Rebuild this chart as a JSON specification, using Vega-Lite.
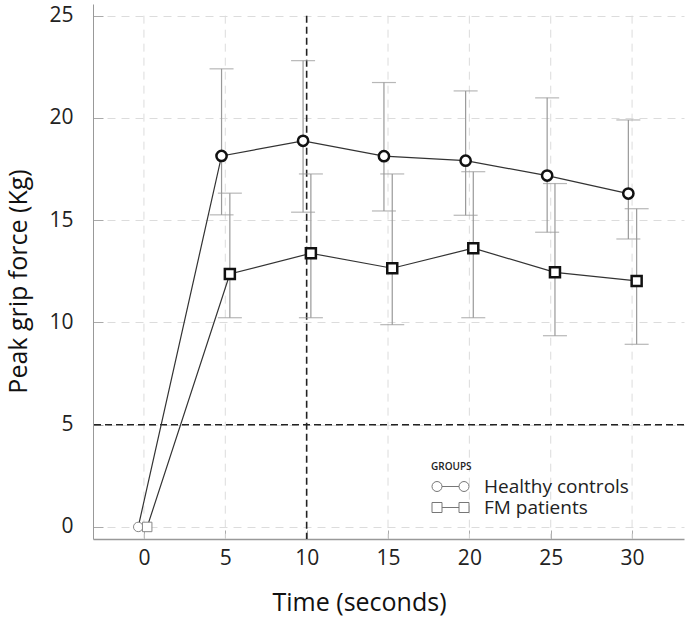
{
  "$schema": "https://vega.github.io/schema/vega-lite/v6.json",
  "width": 591,
  "height": 535,
  "autosize": "none",
  "padding": {"left": 93, "top": 4, "right": 1, "bottom": 80},
  "background": "white",
  "datasets": {
    "groups": [
      {"group": "Healthy controls", "t": -0.35, "mean": 0, "lo": null, "hi": null},
      {"group": "Healthy controls", "t": 4.77, "mean": 18.14, "lo": 15.26, "hi": 22.4},
      {"group": "Healthy controls", "t": 9.78, "mean": 18.88, "lo": 15.39, "hi": 22.8},
      {"group": "Healthy controls", "t": 14.75, "mean": 18.13, "lo": 15.45, "hi": 21.73},
      {"group": "Healthy controls", "t": 19.77, "mean": 17.91, "lo": 15.24, "hi": 21.32},
      {"group": "Healthy controls", "t": 24.78, "mean": 17.18, "lo": 14.41, "hi": 20.98},
      {"group": "Healthy controls", "t": 29.77, "mean": 16.3, "lo": 14.08, "hi": 19.9},
      {"group": "FM patients", "t": 0.2, "mean": 0, "lo": null, "hi": null},
      {"group": "FM patients", "t": 5.28, "mean": 12.37, "lo": 10.23, "hi": 16.32},
      {"group": "FM patients", "t": 10.26, "mean": 13.38, "lo": 10.23, "hi": 17.26},
      {"group": "FM patients", "t": 15.26, "mean": 12.65, "lo": 9.89, "hi": 17.26},
      {"group": "FM patients", "t": 20.24, "mean": 13.63, "lo": 10.23, "hi": 17.37},
      {"group": "FM patients", "t": 25.26, "mean": 12.45, "lo": 9.35, "hi": 16.79},
      {"group": "FM patients", "t": 30.28, "mean": 12.03, "lo": 8.93, "hi": 15.56}
    ],
    "vgrid": [{"t": 0}, {"t": 5}, {"t": 15}, {"t": 20}, {"t": 25}, {"t": 30}]
  },
  "encoding": {
    "x": {
      "field": "t",
      "type": "quantitative",
      "title": "Time (seconds)",
      "scale": {"domain": [-3.13, 33.19], "nice": false, "zero": false},
      "axis": {
        "values": [0, 5, 10, 15, 20, 25, 30],
        "grid": false,
        "domainColor": "#999999",
        "domainWidth": 1.5,
        "tickColor": "#aaaaaa",
        "tickSize": -9,
        "labelPadding": 17,
        "labelFontSize": 21,
        "labelColor": "#222222",
        "titleFontSize": 25,
        "titleFontWeight": "normal",
        "titleColor": "#111111",
        "titlePadding": 22,
        "titleX": 266
      }
    }
  },
  "layer": [
    {
      "data": {"name": "vgrid"},
      "mark": {"type": "rule", "color": "#dcdcdc", "strokeDash": [8, 6], "strokeWidth": 1},
      "encoding": {
        "y": {
          "datum": 25,
          "type": "quantitative",
          "title": "Peak grip force (Kg)",
          "scale": {"domain": [-0.59, 25.57], "nice": false, "zero": false},
          "axis": {
            "values": [0, 5, 10, 15, 20, 25],
            "grid": true,
            "gridColor": "#dcdcdc",
            "gridDash": [8, 6],
            "domainColor": "#999999",
            "tickColor": "#aaaaaa",
            "tickSize": -10,
            "labelPadding": 30,
            "labelFontSize": 21,
            "labelColor": "#222222",
            "titleFontSize": 25,
            "titleFontWeight": "normal",
            "titleColor": "#111111",
            "titlePadding": 17,
            "titleY": 277
          }
        },
        "y2": {"datum": -0.59}
      }
    },
    {
      "data": {"values": [{"t": 10}]},
      "mark": {"type": "rule", "color": "#222222", "strokeDash": [7, 4], "strokeWidth": 1.6},
      "encoding": {
        "y": {"datum": 25, "type": "quantitative", "title": "Peak grip force (Kg)"},
        "y2": {"datum": -0.59}
      }
    },
    {
      "data": {"values": [{"ref": 5}]},
      "mark": {"type": "rule", "color": "#222222", "strokeDash": [7, 4], "strokeWidth": 1.6},
      "encoding": {
        "x": null,
        "y": {"field": "ref", "type": "quantitative", "title": "Peak grip force (Kg)"}
      }
    },
    {
      "data": {"name": "groups"},
      "transform": [{"filter": "isValid(datum.hi)"}],
      "mark": {
        "type": "errorbar",
        "color": "#999999",
        "rule": {"strokeWidth": 1.2},
        "ticks": {"size": 24, "thickness": 1.2}
      },
      "encoding": {
        "y": {"field": "lo", "type": "quantitative", "title": "Peak grip force (Kg)"},
        "y2": {"field": "hi"}
      }
    },
    {
      "data": {"name": "groups"},
      "mark": {"type": "line", "color": "#333333", "strokeWidth": 1.2},
      "encoding": {
        "y": {"field": "mean", "type": "quantitative", "title": "Peak grip force (Kg)"},
        "detail": {"field": "group"}
      }
    },
    {
      "data": {"name": "groups"},
      "transform": [{"filter": "datum.t > 1000"}],
      "mark": {"type": "point", "filled": true, "fill": "white", "stroke": "#777777", "strokeWidth": 1},
      "encoding": {
        "y": {"field": "mean", "type": "quantitative", "title": "Peak grip force (Kg)"},
        "shape": {
          "field": "group",
          "type": "nominal",
          "scale": {
            "domain": ["Healthy controls", "FM patients"],
            "range": [
              "M-0.85,0A0.5,0.5,0,1,1,-1.85,0A0.5,0.5,0,1,1,-0.85,0L0.85,0A0.5,0.5,0,1,1,1.85,0A0.5,0.5,0,1,1,0.85,0",
              "M-1.85,-0.5H-0.85V0.5H-1.85ZM-0.85,0H0.85M0.85,-0.5H1.85V0.5H0.85Z"
            ]
          },
          "legend": {
            "title": "GROUPS",
            "orient": "none",
            "legendX": 338,
            "legendY": 458,
            "padding": 0,
            "titleFontSize": 10,
            "titleFontWeight": 600,
            "titleColor": "#222222",
            "titlePadding": 4,
            "labelFontSize": 19,
            "labelColor": "#222222",
            "labelOffset": 23,
            "labelLimit": 300,
            "symbolSize": 400,
            "symbolOffset": 9,
            "symbolOpacity": 1,
            "symbolStrokeWidth": 1,
            "rowPadding": -5
          }
        }
      }
    },
    {
      "data": {"name": "groups"},
      "transform": [{"filter": "datum.group === 'Healthy controls'"}],
      "mark": {"type": "point", "shape": "circle", "filled": true, "fill": "white", "opacity": 1},
      "encoding": {
        "y": {"field": "mean", "type": "quantitative", "title": "Peak grip force (Kg)"},
        "stroke": {"condition": {"test": "datum.t < 1", "value": "#888888"}, "value": "#111111"},
        "strokeWidth": {"condition": {"test": "datum.t < 1", "value": 1}, "value": 2.5},
        "size": {"condition": {"test": "datum.t < 1", "value": 90}, "value": 105}
      }
    },
    {
      "data": {"name": "groups"},
      "transform": [{"filter": "datum.group === 'FM patients'"}],
      "mark": {"type": "point", "shape": "square", "filled": true, "fill": "white", "opacity": 1},
      "encoding": {
        "y": {"field": "mean", "type": "quantitative", "title": "Peak grip force (Kg)"},
        "stroke": {"condition": {"test": "datum.t < 1", "value": "#888888"}, "value": "#111111"},
        "strokeWidth": {"condition": {"test": "datum.t < 1", "value": 1}, "value": 2.5},
        "size": {"condition": {"test": "datum.t < 1", "value": 90}, "value": 100}
      }
    }
  ],
  "config": {
    "font": "Open Sans",
    "view": {"stroke": null}
  }
}
